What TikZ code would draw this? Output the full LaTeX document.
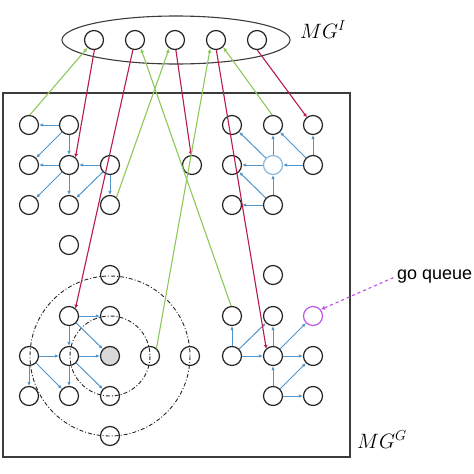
\documentclass[tikz,border=0pt]{standalone}
\usepackage{fontspec}
\newfontfamily\sansf{Liberation Sans}
\usetikzlibrary{arrows.meta,shapes.geometric}
\definecolor{cblue}{RGB}{80,150,205}
\definecolor{lblue}{RGB}{140,185,220}
\definecolor{cgreen}{RGB}{140,200,90}
\definecolor{cred}{RGB}{185,25,75}
\definecolor{cmag}{RGB}{190,90,230}
\definecolor{cgray}{RGB}{60,60,60}
\begin{document}
\begin{tikzpicture}[x=1pt,y=-1pt,
  nd/.style={circle,draw=black!85,line width=1.2pt,minimum size=19pt,inner sep=0pt},
  barr/.style={draw=cblue,line width=1pt,-{Latex[length=4pt,width=3.5pt]}},
  garr/.style={draw=cgreen,line width=1.1pt,-{Latex[length=4.5pt,width=4pt]}},
  rarr/.style={draw=cred,line width=1.1pt,-{Latex[length=3.5pt,width=4pt]}},
  dd/.style={draw=black!85,line width=0.9pt,dash pattern=on 4pt off 2pt on 1pt off 2pt},
  lbl/.style={font=\fontsize{20}{22}\selectfont,inner sep=0pt}]
\useasboundingbox (0,0) rectangle (474,474);
% outer shapes
\node[draw=cgray,line width=1.1pt,ellipse,minimum width=228pt,minimum height=48pt,inner sep=0pt] (ell) at (176,40) {};
\draw[cgray,line width=1.2pt] (3,93) rectangle (350,457);
\node[lbl,anchor=base west] (mgi) at (300,38) {$MG^I$};
\node[lbl,anchor=base west] (mgg) at (357,448) {$MG^G$};
\node[lbl,anchor=base west,font=\sansf\fontsize{18}{20}\selectfont] (gq) at (397,279) {go queue};
% top nodes
\foreach \n/\x in {t1/94,t2/135,t3/175,t4/216,t5/257} \node[nd] (\n) at (\x,40) {};
% left top cluster
\foreach \n/\p in {a11/{29,125},a12/{69,125},a21/{29,165},a22/{69,165},a23/{110,165},a31/{29,205},a32/{69,205},a33/{110,205},a4/{69,245},c/{192,165}}
  \node[nd] (\n) at (\p) {};
% right top cluster
\foreach \n/\p in {b11/{232,125},b12/{273,125},b13/{313,125},b21/{232,165},b23/{313,165},b31/{232,205},b32/{273,205}}
  \node[nd] (\n) at (\p) {};
\node[nd,draw=lblue] (b22) at (273,165) {};
% bottom left
\foreach \n/\p in {d0/{110,275},d1/{69,316},d2/{110,316},e1/{29,356},e2/{69,356},e4/{150,356},e5/{190,356},f1/{29,396},f2/{69,396},f3/{110,396},g/{110,436}}
  \node[nd] (\n) at (\p) {};
\node[nd,fill=black!15] (e3) at (110,356) {};
% bottom right
\foreach \n/\p in {h0/{273,275},h1/{232,316},h2/{273,316},i1/{232,356},i2/{273,356},i3/{313,356},j2/{273,396},j3/{313,396}}
  \node[nd] (\n) at (\p) {};
\node[nd,draw=cmag] (h3) at (313,316) {};
% dash-dot circles
\draw[dd] (e3.center) circle[radius=40];
\draw[dd] (e3.center) circle[radius=80];
% blue arrows, left top
\foreach \s/\t in {a12/a11,a12/a21,a12/a22,a22/a21,a23/a22,a22/a31,a22/a32,a23/a32,a23/a33}
  \draw[barr] (\s) -- (\t);
% blue arrows, right top
\foreach \s/\t in {b22/b11,b22/b12,b23/b12,b23/b13,b22/b21,b23/b22,b32/b22,b32/b21,b32/b31}
  \draw[barr] (\s) -- (\t);
% blue arrows, bottom left
\foreach \s/\t in {d1/d2,d1/e2,d1/e3,e1/e2,e2/e3,e1/f1,e1/f2,e2/f2,e2/f3}
  \draw[barr] (\s) -- (\t);
% blue arrows, bottom right
\foreach \s/\t in {i1/h1,i1/h2,i1/i2,i2/h2,i2/h3,i2/i3,j2/i2,j2/i3,j2/j3}
  \draw[barr] (\s) -- (\t);
% long connectors
\draw[garr] (a11.85) -- (t1.230);
\draw[rarr] (t1.272) -- (a22.50);
\draw[rarr] (t2.258) -- (d1.50);
\draw[garr] (h1.95) -- (t2.305);
\draw[garr] (a33.50) -- (t3.235);
\draw[rarr] (t3.275) -- (c.95);
\draw[garr] (e4.50) -- (t4.235);
\draw[rarr] (t4.272) -- (i2.132);
\draw[garr] (b12.95) -- (t4.315);
\draw[rarr] (t5.272) -- (b13.128);
% go queue pointer
\draw[draw=cmag,line width=1.2pt,dashed,-{Latex[length=4.5pt,width=4.5pt]},shorten <=4pt] (gq.west) -- (h3.40);
\end{tikzpicture}
\end{document}
